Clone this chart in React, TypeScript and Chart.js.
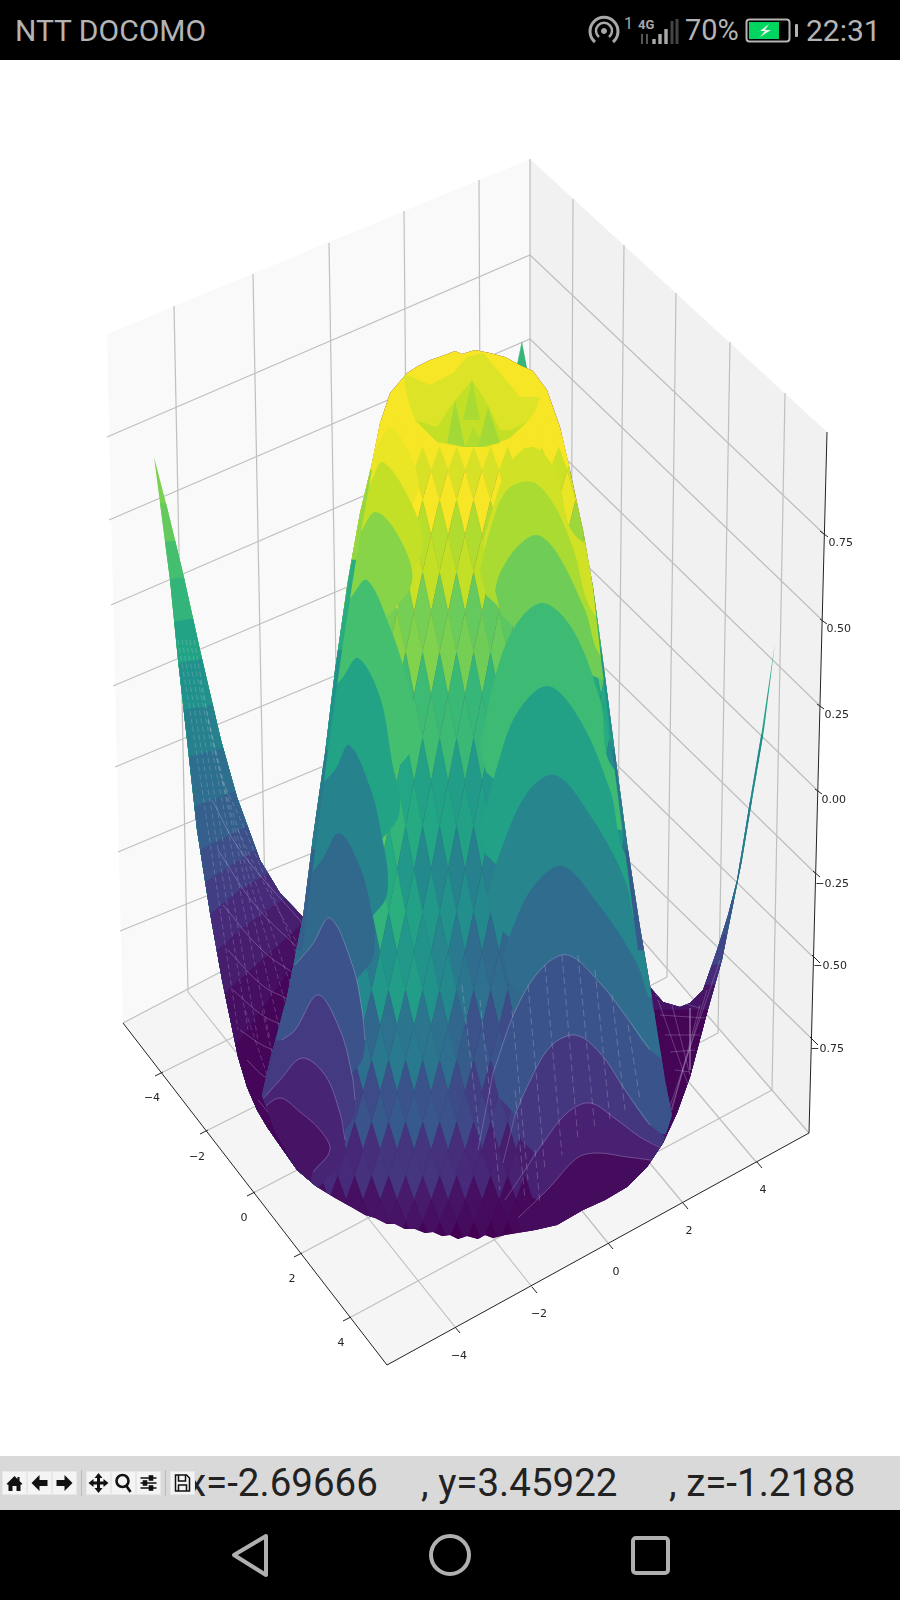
import React, { useEffect, useRef } from "react";
import { Chart, registerables } from "chart.js";

/* ---------- Values (scale units = picture units) ---------- */
const VIRIDIS = ["#440154","#482475","#414487","#355f8d","#2a788e","#21918c","#22a884","#44bf70","#7ad151","#bddf26","#fde725"];

const LEFT_PANE = [107,334, 530,159, 530,810, 123,1023];
const RIGHT_PANE = [530,159, 827,432, 809,1133, 530,810];
const FLOOR_PANE = [123,1023, 530,810, 809,1133, 387,1365];

const WALL_GRID = [
  [107,437, 530,255, 823,533],
  [109,520, 530,339, 822,620],
  [111,605, 530,424, 819,705],
  [113,686, 530,510, 817,790],
  [115,767, 530,595, 815,873],
  [118,852, 530,680, 813,957],
  [120,931, 530,765, 811,1038],
  [174,306, 188,992],
  [253,274, 266,952],
  [329,243, 340,912],
  [404,211, 410,875],
  [479,180, 482,837],
  [573,199, 570,870],
  [624,245, 617,925],
  [676,293, 667,977],
  [730,342, 718,1033],
  [785,393, 772,1090],
  [530,159, 530,810],
];
const FLOOR_GRID = [
  [163,1072, 570,870],
  [208,1130, 617,925],
  [255,1192, 667,977],
  [302,1253, 718,1033],
  [351,1317, 772,1090],
  [455,1327, 188,992],
  [532,1287, 266,952],
  [608,1243, 340,912],
  [683,1203, 410,875],
  [757,1163, 482,837],
  [123,1023, 530,810, 809,1133],
];
const AXIS_LINES = [
  [123,1023, 387,1365, 809,1133],
  [827,432, 809,1133],
];
const TICK_MARKS = [
  [155,1076, 163,1072],[200,1134, 208,1130],[247,1196, 255,1192],[294,1257, 302,1253],[343,1321, 351,1317],
  [762,1168, 757,1162],[688,1209, 683,1203],[613,1249, 608,1243],[537,1293, 532,1287],[460,1333, 455,1327],
  [820,531, 828,537],[820,619, 827,624],[817,704, 824,709],[815,789, 822,794],[813,871, 820,877],[812,955, 820,963],[810,1037, 818,1045],
];
const X_TICK_LABELS = ["\u22124","\u22122","0","2","4"];
const X_TICK_POS = [[152,1098],[197,1157],[244,1218],[292,1279],[341,1343]];
const Y_TICK_LABELS = ["4","2","0","\u22122","\u22124"];
const Y_TICK_POS = [[763,1190],[689,1231],[616,1272],[539,1314],[459,1356]];
const Z_TICK_LABELS = ["0.75","0.50","0.25","0.00","\u22120.25","\u22120.50","\u22120.75"];
const Z_TICK_POS = [[853,543],[851,629],[849,715],[846,800],[849,884],[847,966],[844,1049]];

const WING_OUTLINE = [154,457,167,507,183,573,200,650,221,740,237,797,260,860,280,893,303,917,325,930,325,1100,317,1187,297,1170,283,1150,267,1127,257,1110,247,1087,238,1057,233,1033,222,980,210,913,197,830,187,740,178,660,170,580];
const WING_BAND_VALUES = [.80,.76,.70,.65,.58,.50,.43,.36,.30,.24,.18,.12,.08,.04,.015];
const WING_BAND_TOPS = [
  [440,440,440],[505,500,490],[545,535,520],[585,570,550],[630,610,590],[675,650,620],[720,700,660],
  [770,745,700],[830,790,730],[885,830,770],[930,860,800],[980,890,830],[1030,930,860],[1080,980,890],[1140,1040,900],
];
const WING_BAND_XS = [130,240,340];
const WING_RIBS = [
  [178,640,193,730,238,1030],[182,640,198,730,248,1030],[186,640,203,730,258,1040],[190,640,208,730,270,1040],
  [194,640,213,740,282,1040],[200,680,222,780,296,1040],[208,720,232,810,306,1030],[222,780,245,830,316,1000],
  [238,830,262,880,318,980],[245,1010,262,1060,296,1160],[262,1010,280,1080,312,1160],
];
const WING_ARCS = [
  [212,800,240,850,304,925],[218,850,255,905,300,950],[223,905,262,950,296,975],[228,950,262,985,290,1000],
  [233,990,262,1015,282,1025],[240,1030,262,1045,274,1050],[247,1060,262,1075,268,1078],[258,1100,280,1125,300,1140],
];

const SPIKE = [522,342,517,366,527,368];
const SPIKE_VALUE = 0.66;

const SHEET_OUTLINE = [775,643,762,730,749,807,737,880,728,915,717,950,703,990,690,1003,680,1007,663,1002,650,987,640,1000,640,1100,627,1187,647,1167,663,1143,677,1113,690,1077,707,1013,722,960,733,905,742,860,752,800,764,730];
const SHEET_BAND_TOPS = [640,735,800,860,900,935,965,985,1010];
const SHEET_BAND_VALUES = [.58,.47,.42,.34,.26,.2,.12,.05,.01];
const SHEET_MESH = [
  [655,995,700,1008],[660,1015,705,1018],[665,1035,700,1035],[670,1052,695,1050],[675,1070,690,1072],
  [658,1000,690,1090],[672,1005,690,1075],[690,1008,690,1070],[700,1005,672,1110],[707,990,665,1130],
  [720,960,655,1150],
];

const COLUMN_OUTLINE = [407,373,418,366,430,360,442,356,455,351,462,354,475,350,490,353,505,357,520,365,533,371,547,390,560,427,570,470,583,530,593,587,602,653,615,753,627,843,640,927,650,985,657,1030,665,1080,672,1115,663,1143,647,1167,627,1187,605,1200,583,1210,557,1225,535,1230,517,1233,505,1235,493,1238,485,1235,478,1239,467,1236,458,1239,450,1235,442,1236,433,1232,425,1233,415,1229,405,1229,395,1224,387,1224,375,1218,365,1215,353,1208,335,1198,317,1187,297,1170,275,1130,262,1095,270,1060,287,997,303,917,313,837,325,753,335,670,348,580,360,513,372,463,380,423,390,393];
const COLUMN_TOP = [350,340,580,340,580,470,350,470];

const LATTICE_ROW_Y = [447,470,500,535,572,612,652,695,738,782,826,870,912,952,990,1026,1060,1092,1122,1150,1176,1200,1222,1242];
const LATTICE_ROW_OFFSET = [0,-2,2,-2,3,-3,3,-3,3,-3,3,-3,3,-3,3,-3,3,-3,3,-2,2,-1,1,0];
const LATTICE_VALUES = [
  [99,99,99,99,99,99,99,99,99,99,99,99,99,99],
  [94,95,95,96,96,96,96,96,96,95,95,94,94,94],
  [97,98,98,98,98,97,97,97,97,97,96,96,96,95],
  [88,90,91,91,91,91,90,90,90,89,89,88,88,87],
  [88,89,90,90,89,88,88,88,87,87,86,85,85,84],
  [78,80,82,82,82,81,80,79,78,77,77,76,75,75],
  [76,78,79,79,78,78,77,76,75,74,73,72,71,70],
  [66,68,70,71,71,70,70,69,68,67,66,65,64,63],
  [62,66,70,68,67,66,65,64,63,63,62,61,60,59],
  [54,60,74,62,60,60,58,57,56,56,55,54,53,52],
  [52,58,72,62,58,56,55,54,53,52,51,50,49,48],
  [44,50,64,56,50,49,47,46,45,44,44,43,42,41],
  [44,50,62,60,54,50,48,46,44,43,42,41,40,39],
  [38,44,54,56,54,48,44,38,37,36,35,34,34,33],
  [38,44,50,52,52,48,44,36,34,32,31,31,30,30],
  [30,36,40,42,42,40,36,28,27,26,26,25,25,24],
  [30,33,37,38,38,36,33,26,24,23,23,22,22,22],
  [22,26,28,29,29,28,26,21,19,18,18,17,17,17],
  [20,23,25,25,25,24,23,19,16,15,15,14,14,14],
  [13,15,17,17,17,16,15,13,11,10,10,9,9,9],
  [10,12,14,14,14,13,12,10,9,8,7,7,6,6],
  [5,6,7,8,8,7,6,5,4,4,3,3,3,3],
  [2,3,4,4,4,3,3,2,2,1,1,1,1,1],
  [0,0,1,1,1,1,0,0,0,0,0,0,0,0],
];

const LEFT_ARCH_VALUES = [.97,.91,.82,.70,.58,.44,.34,.25,.17,.10,.05];
const LEFT_ARCHES = [
  [362,470,380,441,390,427,405,445,418,480],
  [352,520,372,480,382,462,403,487,423,537],
  [345,560,362,530,375,512,393,527,412,570],
  [335,620,352,596,367,580,390,627,407,680,417,727],
  [325,700,343,677,358,658,380,697,393,767,400,800],
  [315,790,335,770,349,745,370,787,382,837,388,880],
  [305,880,322,860,339,833,360,867,372,913,375,940],
  [295,965,312,945,330,918,353,967,362,1010,365,1040],
  [282,1040,295,1030,318,995,340,1030,352,1075,355,1100],
  [262,1100,280,1080,302,1058,325,1075,340,1113,345,1140],
  [250,1125,262,1110,280,1098,300,1112,320,1130,330,1150,313,1172],
];
const RIGHT_ARCH_VALUES = [.93,.87,.78,.68,.57,.45,.35,.26,.16,.09,.03];
const RIGHT_ARCHES = [
  [483,543,490,517,510,463,533,447,555,470,580,540],
  [480,570,490,530,507,490,532,482,553,503,572,545,600,620],
  [495,590,500,573,517,547,537,535,557,553,585,610,605,660],
  [480,747,497,670,517,623,543,603,573,630,600,700,615,770],
  [480,830,497,767,517,713,548,686,580,720,610,790,630,860],
  [487,897,500,853,527,793,555,775,590,815,625,880,645,950],
  [503,957,513,927,533,887,562,866,595,900,635,960,660,1020],
  [493,1073,517,1007,543,967,568,955,600,983,625,1015,650,1050],
  [515,1115,527,1087,550,1047,575,1035,600,1053,627,1093,650,1125],
  [525,1170,543,1143,567,1113,590,1103,617,1120,640,1137,665,1150],
  [518,1218,550,1187,577,1158,597,1153,627,1157,650,1160,672,1165],
];
const RIGHT_ARCH_TAILS = [[493,1073,478,1150],[515,1115,503,1163],[525,1170,505,1200]];
const RIGHT_ARCH_RIBS = [
  [512,1010,528,1180],[528,985,545,1170],[545,965,562,1155],[562,955,578,1140],[578,955,595,1130],[595,970,610,1120],[612,995,625,1110],[628,1025,640,1100],
  [515,1090,525,1200],[535,1150,540,1205],[480,1000,500,1190],[462,985,480,1140],
];
const EDGE_STRIPS = [
  [572,470,590,470,612,560,590,560],[590,560,612,560,625,650,600,650],[600,650,625,650,640,750,612,750],[612,750,640,750,655,850,625,850],[625,850,655,850,670,950,638,950],
  [372,470,350,470,335,560,356,560],[356,560,335,560,320,650,342,650],[342,650,320,650,305,750,328,750],[328,750,305,750,290,850,315,850],[315,850,290,850,280,950,302,950],
];
const EDGE_STRIP_VALUES = [.82,.62,.5,.4,.28,.84,.62,.5,.4,.3];
const BOWL_POLYGONS = [
  [403,373,430,385,453,373,467,357,483,353,500,373,520,397,540,397,535,412,527,422,510,438,487,447,463,447,437,442,415,420,408,400],
  [415,420,437,427,453,403,472,380,487,403,500,430,510,430,527,422,510,438,487,447,463,447,437,442],
  [472,380,463,420,480,420],
  [455,400,447,443,465,447],
  [473,427,465,447,485,447],
  [488,407,478,447,500,443],
];
const BOWL_VALUES = [.95,.91,.87,.86,.88,.86];

const TOP_LABELS = { carrier: "NTT DOCOMO", battery: "70%", time: "22:31" };
const READOUT = ["x=-2.69666", ", y=3.45922", ", z=-1.2188"];

/* ---------- Helpers ---------- */
const pts = (f: number[]) => { const o = []; for (let i = 0; i < f.length; i += 2) o.push({ x: f[i], y: f[i + 1] }); return o; };
const hex = (h: string) => [1, 3, 5].map(i => parseInt(h.slice(i, i + 2), 16));
function viridis(v: number) {
  const t = Math.max(0, Math.min(0.9999, v)) * 10, i = Math.floor(t), f = t - i;
  const a = hex(VIRIDIS[i]), b = hex(VIRIDIS[i + 1]);
  return `rgb(${a.map((c, j) => Math.round(c + (b[j] - c) * f)).join(",")})`;
}
const OUTLINES: Record<string, number[]> = { column: COLUMN_OUTLINE, wing: WING_OUTLINE, sheet: SHEET_OUTLINE };

const surfaceClip = {
  id: "surfaceClip",
  beforeDatasetDraw(chart: any, args: any) {
    const g = chart.data.datasets[args.index].clipGroup;
    if (!g) return;
    const o = OUTLINES[g], { ctx, scales: { x, y } } = chart;
    ctx.save();
    ctx.beginPath();
    for (let i = 0; i < o.length; i += 2) {
      const px = x.getPixelForValue(o[i]), py = y.getPixelForValue(o[i + 1]);
      i ? ctx.lineTo(px, py) : ctx.moveTo(px, py);
    }
    ctx.closePath();
    ctx.clip();
  },
  afterDatasetDraw(chart: any, args: any) {
    if (chart.data.datasets[args.index].clipGroup) chart.ctx.restore();
  },
};
Chart.register(surfaceClip);
Chart.register(...registerables);

const tickLabels = {
  id: "tickLabels",
  afterDatasetsDraw(chart: any) {
    const { ctx, scales: { x, y } } = chart;
    ctx.save();
    ctx.font = '11px "DejaVu Sans"';
    ctx.fillStyle = "#262626";
    ctx.textBaseline = "middle";
    ctx.textAlign = "center";
    X_TICK_LABELS.forEach((l, i) => ctx.fillText(l, x.getPixelForValue(X_TICK_POS[i][0]), y.getPixelForValue(X_TICK_POS[i][1])));
    Y_TICK_LABELS.forEach((l, i) => ctx.fillText(l, x.getPixelForValue(Y_TICK_POS[i][0]), y.getPixelForValue(Y_TICK_POS[i][1])));
    ctx.textAlign = "right";
    Z_TICK_LABELS.forEach((l, i) => ctx.fillText(l, x.getPixelForValue(Z_TICK_POS[i][0]), y.getPixelForValue(Z_TICK_POS[i][1])));
    ctx.restore();
  },
};

function buildDatasets() {
  const ds: any[] = [];
  const poly = (f: number[], color: string, clipGroup?: string, bw = 0.6, tension = 0) =>
    ds.push({ data: pts(f), showLine: true, fill: "shape", backgroundColor: color, borderColor: color, borderWidth: bw, pointRadius: 0, clipGroup, tension });
  const line = (f: number[], color: string, width = 1, clipGroup?: string, dash?: number[], tension = 0) =>
    ds.push({ data: pts(f), showLine: true, fill: false, borderColor: color, borderWidth: width, borderDash: dash, pointRadius: 0, clipGroup, tension });

  poly(LEFT_PANE, "#f9f9f9", undefined, 0);
  poly(RIGHT_PANE, "#f1f1f1", undefined, 0);
  poly(FLOOR_PANE, "#f5f5f5", undefined, 0);
  WALL_GRID.forEach(l => line(l, "#bfbfbf", 1.2));
  FLOOR_GRID.forEach(l => line(l, "#bfbfbf", 1.2));
  AXIS_LINES.forEach(l => line(l, "#222222", 1));
  TICK_MARKS.forEach(l => line(l, "#222222", 1));

  poly(SPIKE, viridis(SPIKE_VALUE));

  WING_BAND_VALUES.forEach((v, i) => {
    const t = WING_BAND_TOPS[i];
    const f: number[] = [];
    WING_BAND_XS.forEach((x, k) => f.push(x, t[k]));
    for (let k = 2; k >= 0; k--) f.push(WING_BAND_XS[k], 1300);
    poly(f, viridis(v), "wing");
  });
  WING_RIBS.forEach(l => line(l, "rgba(225,225,240,0.22)", 1, "wing", [5, 3], 0.4));
  WING_ARCS.forEach(l => line(l, "rgba(225,215,240,0.28)", 1, "wing", undefined, 0.4));

  SHEET_BAND_VALUES.forEach((v, i) => {
    const t = SHEET_BAND_TOPS[i];
    poly([620, t, 800, t, 800, 1300, 620, 1300], viridis(v), "sheet");
  });
  SHEET_MESH.forEach(l => line(l, "rgba(225,215,240,0.25)", 1, "sheet"));

  poly(COLUMN_OUTLINE, viridis(0.02), undefined, 0);
  poly(COLUMN_TOP, viridis(0.99), "column");
  LATTICE_ROW_Y.forEach((y, i) => {
    const top = i ? LATTICE_ROW_Y[i - 1] : y - 30;
    const bot = i < LATTICE_ROW_Y.length - 1 ? LATTICE_ROW_Y[i + 1] : y + 25;
    for (let k = -12; k <= 12; k++) {
      const x = 465 + k * 17 + (i % 2 ? 8.5 : 0);
      const v = (LATTICE_VALUES[i][Math.max(0, Math.min(13, k + 7))] + LATTICE_ROW_OFFSET[i]) / 100;
      poly([x, top, x + 8.5, y, x, bot, x - 8.5, y], viridis(v), "column");
    }
  });

  const last = (c: number[]) => [c[c.length - 2], c[c.length - 1]];
  LEFT_ARCHES.forEach((c, i) => {
    const [tx, ty] = last(c);
    poly([...c, tx - 6, ty + 25, tx - 60, ty + 70, 200, ty + 70, 200, c[1] + 10], viridis(LEFT_ARCH_VALUES[i]), "column", 0, 0.35);
  });
  RIGHT_ARCHES.forEach((c, i) => {
    const [, fy] = last(c);
    poly([...c, 730, fy + 60, c[0] + 60, c[1] + 70, c[0] + 6, c[1] + 25], viridis(RIGHT_ARCH_VALUES[i]), "column", 0, 0.35);
  });
  EDGE_STRIPS.forEach((s, i) => poly(s, viridis(EDGE_STRIP_VALUES[i]), "column"));
  LEFT_ARCHES.forEach((c, i) => { if (LEFT_ARCH_VALUES[i] < 0.3) line(c, "rgba(225,215,240,0.28)", 1, "column", undefined, 0.35); });
  RIGHT_ARCHES.forEach((c, i) => { if (RIGHT_ARCH_VALUES[i] < 0.3) line(c, "rgba(225,215,240,0.28)", 1, "column", undefined, 0.35); });
  RIGHT_ARCH_TAILS.forEach(l => line(l, "rgba(225,215,240,0.25)", 1, "column"));
  RIGHT_ARCH_RIBS.forEach(l => line(l, "rgba(225,225,240,0.24)", 1, "column", [7, 4]));

  BOWL_POLYGONS.forEach((p, i) => poly(p, viridis(BOWL_VALUES[i]), "column", 0));
  return ds.reverse();
}

/* ---------- Device chrome ---------- */
const abs = (left: number, top: number, width: number, height: number): React.CSSProperties => ({ position: "absolute", left, top, width, height });
const chromeText: React.CSSProperties = { position: "absolute", fontFamily: "Roboto", whiteSpace: "nowrap", lineHeight: 1 };
const BUTTON_LEFTS = [3, 28, 53, 87, 112, 137, 171];
const ICONS = [
  <path d="M2 11 L10 3 L13 6 V4 H15 V8 L18 11 L16 12 V18 H12 V13 H8 V18 H4 V12 Z" fill="#111" />,
  <path d="M2 10 L10 2 V7 H18 V13 H10 V18 Z" fill="#111" />,
  <path d="M18 10 L10 2 V7 H2 V13 H10 V18 Z" fill="#111" />,
  <path d="M10 0 L14 5 H11.5 V8.5 H15 V6 L20 10 L15 14 V11.5 H11.5 V15 H14 L10 20 L6 15 H8.5 V11.5 H5 V14 L0 10 L5 6 V8.5 H8.5 V5 H6 Z" fill="#111" />,
  <g fill="none" stroke="#111" strokeWidth="2.6"><circle cx="9" cy="8" r="6" /><path d="M13 13 L17 19" /></g>,
  <g stroke="#111" strokeWidth="1.6"><path d="M2 5 H18 M2 10 H18 M2 15 H18" /><rect x="11" y="3" width="3" height="4" fill="#111" /><rect x="5" y="8" width="3" height="4" fill="#111" /><rect x="11" y="13" width="3" height="4" fill="#111" /></g>,
  <g fill="none" stroke="#111" strokeWidth="1.5"><path d="M3 2 H14 L17 5 V18 H3 Z" /><path d="M6 2 V8 H13 V2 M6 18 V12 H14 V18" /></g>,
];

export default function App() {
  const ref = useRef<HTMLCanvasElement>(null);
  useEffect(() => {
    const chart = new Chart(ref.current as HTMLCanvasElement, {
      type: "scatter",
      data: { datasets: buildDatasets() },
      options: {
        animation: false,
        responsive: false,
        events: [],
        layout: { padding: 0 },
        clip: false,
        plugins: { legend: { display: false }, tooltip: { enabled: false }, title: { display: false } },
        scales: {
          x: { type: "linear", min: 0, max: 900, display: false },
          y: { type: "linear", min: 0, max: 1600, reverse: true, display: false },
        },
      } as any,
      plugins: [tickLabels],
    });
    return () => chart.destroy();
  }, []);
  return (
    <div style={{ position: "absolute", left: 0, top: 0, width: 900, height: 1600, overflow: "hidden", background: "#fff" }}>
      <canvas ref={ref} width={900} height={1600} style={{ display: "block", position: "absolute", left: 0, top: 0 }} />
      <div style={{ ...abs(0, 0, 900, 60), background: "#000" }}>
        <span style={{ ...chromeText, left: 15, top: 16, fontSize: 30, color: "#b4b4b4" }}>{TOP_LABELS.carrier}</span>
        <svg style={abs(588, 14, 97, 34)} viewBox="0 0 97 34" fill="none" stroke="#a8a8a8">
          <path d="M7 28 A14 14 0 1 1 25 28" strokeWidth="3" />
          <path d="M11 23 A8 8 0 1 1 21 23" strokeWidth="2.5" />
          <circle cx="16" cy="17" r="2.5" fill="#a8a8a8" />
          <text x="36" y="15" fontSize="16" fontFamily="Roboto" fill="#a8a8a8" stroke="none">1</text>
          <text x="50" y="15" fontSize="13" fontWeight="700" fontFamily="Roboto" fill="#a8a8a8" stroke="none">4G</text>
          <path d="M54 30 V20 M59 30 V20" strokeWidth="2" stroke="#555" />
          <path d="M66 30 V25 M72 30 V20 M78 30 V15" strokeWidth="3.4" />
          <path d="M84 30 V7 M89 30 V5" strokeWidth="3" stroke="#444" />
        </svg>
        <span style={{ ...chromeText, left: 685, top: 16, fontSize: 29, color: "#b4b4b4" }}>{TOP_LABELS.battery}</span>
        <svg style={abs(745, 18, 54, 26)} viewBox="0 0 54 26">
          <rect x="1.5" y="1.5" width="43" height="22" rx="3" fill="none" stroke="#b4b4b4" strokeWidth="2" />
          <rect x="4" y="4" width="30" height="17" fill="#00d65f" />
          <path d="M24 6 L15 13 H20 L15 19 L26 12 H20 Z" fill="#eee" />
          <rect x="50" y="6" width="3" height="13" rx="1" fill="#b4b4b4" />
        </svg>
        <span style={{ ...chromeText, left: 806, top: 16, fontSize: 30, color: "#b4b4b4" }}>{TOP_LABELS.time}</span>
      </div>
      <div style={{ ...abs(0, 1456, 900, 54), background: "#d9d9d9" }}>
        {BUTTON_LEFTS.map((l, i) => (
          <svg key={i} style={{ ...abs(l, 16, 23, 22), background: "#f4f4f4", outline: "1px solid #e8e8e8" }} viewBox="-1 -1 22 22">{ICONS[i]}</svg>
        ))}
        <div style={{ ...abs(81, 14, 1, 26), background: "#bbb" }} />
        <div style={{ ...abs(165, 14, 1, 26), background: "#bbb" }} />
        <div style={{ ...abs(195, 0, 705, 54), overflow: "hidden" }}>
          <span style={{ ...chromeText, left: -8, top: 8, fontSize: 38.5, color: "#222" }}>{READOUT[0]}</span>
          <span style={{ ...chromeText, left: 226, top: 8, fontSize: 38.5, color: "#222" }}>{READOUT[1]}</span>
          <span style={{ ...chromeText, left: 474, top: 8, fontSize: 38.5, color: "#222" }}>{READOUT[2]}</span>
        </div>
      </div>
      <div style={{ ...abs(0, 1510, 900, 90), background: "#000" }}>
        <svg style={abs(0, 0, 900, 90)} viewBox="0 0 900 90" fill="none" stroke="#b0b0b0" strokeWidth="4">
          <path d="M266 26 L234 45 L266 65 Z" strokeLinejoin="round" />
          <circle cx="450" cy="45" r="19" />
          <rect x="633" y="28" width="35" height="35" rx="3" />
        </svg>
      </div>
    </div>
  );
}
